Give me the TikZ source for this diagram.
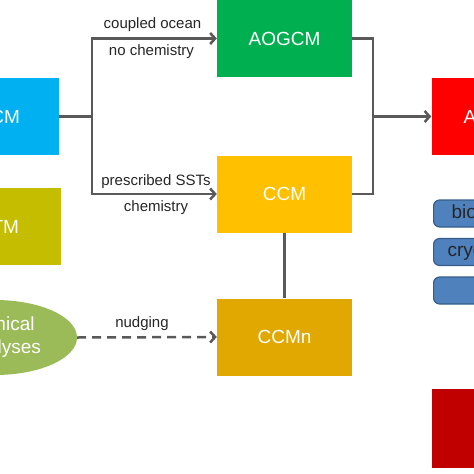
\documentclass[tikz,border=0pt]{standalone}
\usepackage{fontspec}
\setmainfont{Liberation Sans}
\usetikzlibrary{arrows.meta,shapes.geometric}
\definecolor{cblue}{HTML}{00B0F0}
\definecolor{colive}{HTML}{C4BD00}
\definecolor{cgreen}{HTML}{00B050}
\definecolor{cyellow}{HTML}{FFC000}
\definecolor{cgold}{HTML}{E0A800}
\definecolor{cred}{HTML}{FF0000}
\definecolor{cdarkred}{HTML}{C00000}
\definecolor{cell}{HTML}{9BBB59}
\definecolor{crb}{HTML}{4F81BD}
\definecolor{crbd}{HTML}{385D8A}
\definecolor{cline}{HTML}{595959}
\definecolor{ctext}{HTML}{262626}
\begin{document}
\begin{tikzpicture}[x=1pt,y=-1pt,
  box/.style={rectangle, minimum width=135pt, minimum height=77pt, inner sep=0pt,
    text=white, font=\fontsize{19}{22}\selectfont},
  lbl/.style={text=ctext, font=\fontsize{15}{18}\selectfont, inner sep=0pt},
  rbox/.style={rectangle, rounded corners=6pt, fill=crb, draw=crbd, line width=1.2pt,
    minimum height=27pt, text width=120pt, align=left, inner ysep=0pt,
    font=\fontsize{19}{21}\selectfont, text=black!85},
  conn/.style={draw=cline, line width=2.5pt},
  tip/.style={-{Straight Barb[length=5pt,width=11pt]}}
]
\useasboundingbox (0,0) rectangle (474,474);
\fill[white] (0,0) rectangle (474,474);

\node[box, fill=cblue] (agcm) at (-8.5,116.5) {AGCM};
\node[box, fill=colive, minimum width=125pt] (ctm) at (-1.5,226.5) {CTM};
\node[ellipse, fill=cell, minimum width=164pt, minimum height=75pt, inner sep=0pt,
      text=white, align=center, font=\fontsize{19}{23}\selectfont] (rea) at (-5,337.5) {Chemical\\reanalyses};

\node[box, fill=cgreen] (aogcm) at (284.5,38.5) {AOGCM};
\node[box, fill=cyellow] (ccm) at (284.5,194) {CCM};
\node[box, fill=cgold] (ccmn) at (284.5,337) {CCMn};

\node[box, fill=cred] (aoccm) at (499,116.5) {AOCCM};
\node[box, fill=cdarkred, minimum height=79pt] (esm) at (499,428.5) {};

\node[rbox, anchor=west, inner xsep=18pt] (bio) at (433,213.5) {biogeochemistry};
\node[rbox, anchor=west, inner xsep=14pt] (cry) at (433,252) {cryosphere};
\node[rbox, anchor=west, inner xsep=14pt] (b3) at (433,290.5) {};

\coordinate (j1) at (92,116.5);
\coordinate (j2) at (373,116.5);

\draw[conn] (agcm.east) -- (j1);
\draw[conn, tip] (j1) |- (aogcm.west);
\draw[conn, tip] (j1) |- (ccm.west);
\draw[conn] (aogcm.east) -| (j2);
\draw[conn] (ccm.east) -| (j2);
\draw[conn, tip] (j2) -- (aoccm.west);
\draw[conn] (ccm.south) -- (ccmn.north);
\draw[conn, tip, dash pattern=on 9pt off 6pt] (rea.east) -- (ccmn.west);

\node[lbl] (l1) at (152.5,25) {coupled ocean};
\node[lbl] (l2) at (151.5,52) {no chemistry};
\node[lbl] (l3) at (156,182) {prescribed SSTs};
\node[lbl] (l4) at (156,208) {chemistry};
\node[lbl] (l5) at (142,324) {nudging};
\end{tikzpicture}
\end{document}
